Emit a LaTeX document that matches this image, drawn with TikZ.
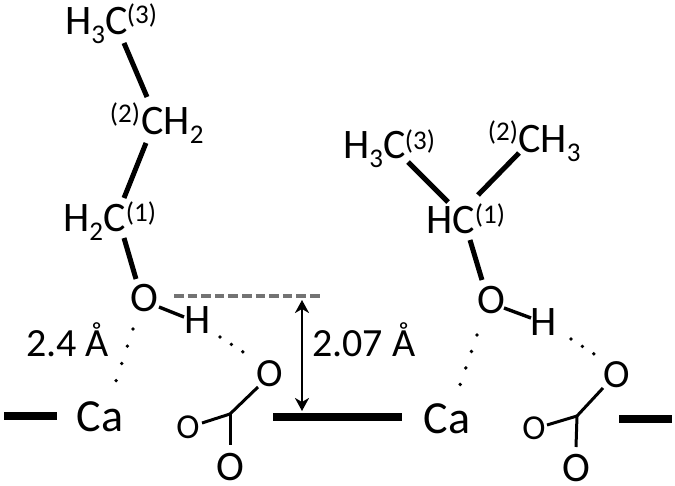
\documentclass[tikz,border=0pt]{standalone}
\usepackage{fontspec}
\setmainfont{Carlito}
\usetikzlibrary{arrows.meta}
\newcommand{\fsz}[1]{\fontsize{#1}{#1}\selectfont}
\newcommand{\subn}[1]{\raisebox{-9pt}{\fsz{27}#1}}
\newcommand{\supn}[1]{{\fsz{27}(#1)}}
\tikzset{
  atom/.style={inner sep=0pt,font=\fsz{42}},
  small/.style={inner sep=0pt,font=\fsz{35}},
  mid/.style={inner sep=0pt,font=\fsz{40}},
  calcium/.style={inner sep=0pt,font=\fsz{46}},
  dist/.style={inner sep=0pt,font=\fsz{40},anchor=base west},
  formula/.style={inner sep=0pt,font=\fsz{42},anchor=base west},
  index/.style={inner sep=0pt,anchor=center},
  bond/.style={line width=5pt},
  ohbond/.style={line width=3.4pt},
  cbond/.style={line width=3pt},
  bar/.style={line width=8pt},
  hbondL/.style={line width=3.8pt,line cap=round,dash pattern=on 0pt off 18.1pt},
  hbondR/.style={line width=3.8pt,line cap=round,dash pattern=on 0pt off 17.4pt},
  hbondS/.style={line width=3.8pt,line cap=round,dash pattern=on 0pt off 13.6pt},
  level/.style={line width=3.4pt,draw=black!55,dash pattern=on 9.5pt off 4.1pt},
  measure/.style={line width=2.8pt,{Stealth[length=13pt,width=14pt,inset=4pt]}-{Stealth[length=13pt,width=14pt,inset=4pt]}}
}
\begin{document}
\begin{tikzpicture}[x=1pt,y=-1pt]
\useasboundingbox (0,0) rectangle (675,486);
% left molecule
\node[formula] (h3c) at (65,35) {H\subn{3}C};
\node[index] (n3) at (142,16) {\supn{3}};
\node[index] (n2) at (125,115) {\supn{2}};
\node[formula] (ch2) at (141,135) {CH\subn{2}};
\node[formula] (h2c) at (63,232) {H\subn{2}C};
\node[index] (n1) at (141,213) {\supn{1}};
\node[atom] (o1) at (144,298) {O};
\node[atom] (h1) at (198,320) {H};
\node[calcium] (ca1) at (100,417) {Ca};
\node[dist] (d1) at (26,357) {2.4 Å};
\node[dist] (d2) at (312,357) {2.07 Å};
\node[mid] (o2) at (270,374) {O};
\node[small] (o3) at (188,427) {O};
\node[atom] (o4) at (230,467) {O};
\coordinate (a1) at (124,43); \coordinate (a2) at (147,97);
\coordinate (a3) at (146,143); \coordinate (a4) at (124,198);
\coordinate (a5) at (124,238); \coordinate (a6) at (136,279);
\coordinate (a7) at (159,307); \coordinate (a8) at (184,317);
\coordinate (cc1) at (230,414);
\coordinate (a9) at (258,387); \coordinate (a10) at (202,423); \coordinate (a11) at (230,445);
\coordinate (p1) at (133,329); \coordinate (p2) at (116,381);
\coordinate (p3) at (220,337); \coordinate (p4) at (243,352);
\draw[bond] (a1) -- (a2);
\draw[bond] (a3) -- (a4);
\draw[bond] (a5) -- (a6);
\draw[ohbond] (a7) -- (a8);
\draw[cbond] (cc1) -- (a9);
\draw[cbond] (cc1) -- (a10);
\draw[cbond] (cc1) -- (a11);
\draw[hbondL] (p1) -- (p2);
\draw[hbondS] (p3) -- (p4);
% level and distance
\coordinate (l1) at (174,296); \coordinate (l2) at (322,296);
\coordinate (m1) at (302,300); \coordinate (m2) at (302,411);
\draw[level] (l1) -- (l2);
\draw[measure] (m1) -- (m2);
% surface bars
\coordinate (s1) at (4,416); \coordinate (s2) at (57,416);
\coordinate (s3) at (273,417); \coordinate (s4) at (402,417);
\coordinate (s5) at (619,419); \coordinate (s6) at (672,419);
\draw[bar] (s1) -- (s2);
\draw[bar] (s3) -- (s4);
\draw[bar] (s5) -- (s6);
% right molecule
\node[formula] (rh3c) at (343,159) {H\subn{3}C};
\node[index] (r3) at (420,141) {\supn{3}};
\node[index] (r2) at (503,133) {\supn{2}};
\node[formula] (rch3) at (518,153) {CH\subn{3}};
\node[formula] (rhc) at (426,234) {HC};
\node[index] (r1) at (490,215) {\supn{1}};
\node[atom] (ro1) at (491,300) {O};
\node[atom] (rh1) at (544,322) {H};
\node[calcium] (ca2) at (447,419) {Ca};
\node[mid] (ro2) at (617,375) {O};
\node[small] (ro3) at (534,428) {O};
\node[atom] (ro4) at (576,468) {O};
\coordinate (b1) at (408,162); \coordinate (b2) at (448,202);
\coordinate (b3) at (519,153); \coordinate (b4) at (478,195);
\coordinate (b5) at (470,240); \coordinate (b6) at (482,280);
\coordinate (b7) at (504,308); \coordinate (b8) at (531,318);
\coordinate (cc2) at (577,416);
\coordinate (b9) at (603,388); \coordinate (b10) at (547,425); \coordinate (b11) at (576,447);
\coordinate (q1) at (477,335); \coordinate (q2) at (460,385);
\coordinate (q3) at (571,339); \coordinate (q4) at (594,354);
\draw[bond] (b1) -- (b2);
\draw[bond] (b3) -- (b4);
\draw[bond] (b5) -- (b6);
\draw[ohbond] (b7) -- (b8);
\draw[cbond] (cc2) -- (b9);
\draw[cbond] (cc2) -- (b10);
\draw[cbond] (cc2) -- (b11);
\draw[hbondR] (q1) -- (q2);
\draw[hbondS] (q3) -- (q4);
\end{tikzpicture}
\end{document}
